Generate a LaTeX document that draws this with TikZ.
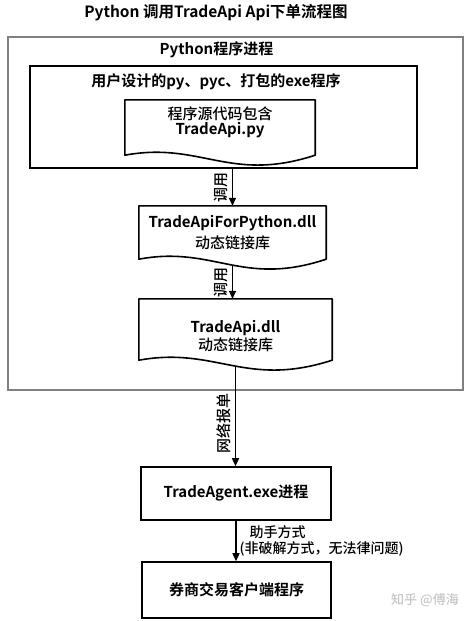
\documentclass[tikz,border=0pt]{standalone}
\usepackage{fontspec}
\setmainfont{Noto Sans CJK SC}[UprightFont=* Medium, BoldFont=* Bold]
\usetikzlibrary{arrows.meta,calc}

\newcommand{\docshape}[2]{%
  \draw[docline] ($(#1.south east)+(0,#2)$) -- (#1.north east) -- (#1.north west) -- ($(#1.south west)+(0,#2)$)
    .. controls ($(#1.south west)!0.4!(#1.south east)+(0,#2-14)$) and ($(#1.south west)!0.55!(#1.south east)+(0,#2+28)$) .. ($(#1.south east)+(0,#2)$) -- cycle;
  \coordinate (#1-out) at ($(#1.south)+(0,#2+6)$);
}

\begin{document}
\begin{tikzpicture}[x=1pt, y=-1pt,
  every node/.style={font=\fontsize{15}{18}\selectfont},
  box/.style={draw, line width=1.6pt, inner sep=0pt},
  docnode/.style={inner sep=0pt, align=center},
  docline/.style={line width=1.6pt, line join=round},
  arr/.style={line width=1.4pt, -{Triangle[length=8pt,width=7pt]}},
  vlabel/.style={rotate=90, anchor=south, inner sep=4pt, font=\fontsize{15}{18}\selectfont},
  sidelabel/.style={right, align=left, inner sep=3pt, font=\fontsize{14}{16}\selectfont}]
  \useasboundingbox (0,0) rectangle (474,621);
  \node[font=\fontsize{15.5}{18}\selectfont\bfseries] (title) at (216,13) {Python 调用TradeApi Api下单流程图};
  \node[draw=gray, line width=1.2pt, minimum width=455pt, minimum height=353pt] (pyproc) at (235.5,213.5) {};
  \node[font=\fontsize{15}{18}\selectfont\bfseries] (pyproclabel) at (216.5,50) {Python程序进程};
  \node[box, minimum width=387pt, minimum height=102pt] (userprog) at (223.5,117) {};
  \node[font=\fontsize{15}{18}\selectfont\bfseries] (userproglabel) at (216,82) {用户设计的py、pyc、打包的exe程序};
  \node[docnode, minimum width=190pt, minimum height=45pt] (srcdoc) at (220,122.5) {程序源代码包含\\[-3pt]\textbf{TradeApi.py}};
  \docshape{srcdoc}{10}
  \node[docnode, minimum width=187pt, minimum height=53pt] (wrapdll) at (232.5,232.5) {\textbf{TradeApiForPython.dll}\\[3pt]动态链接库};
  \docshape{wrapdll}{0}
  \node[docnode, minimum width=193pt, minimum height=74pt] (apidll) at (235.5,336) {\textbf{TradeApi.dll}\\动态链接库};
  \docshape{apidll}{-13}
  \node[box, minimum width=190pt, minimum height=53pt] (agent) at (236,493.5) {\textbf{TradeAgent.exe进程}};
  \node[box, minimum width=189pt, minimum height=56pt] (client) at (236.5,590) {\textbf{券商交易客户端程序}};
  \node[font=\fontsize{13}{15}\selectfont, text=gray!45] (mark) at (425,600) {知乎 @傅海};

  \draw[arr] (wrapdll.north |- userprog.south) -- (wrapdll.north) node[midway, vlabel] {调用};
  \draw[arr] (wrapdll-out) -- (wrapdll-out |- apidll.north) node[midway, vlabel] {调用};
  \draw[arr] (apidll-out) -- (apidll-out |- agent.north) node[pos=0.57, vlabel] {网络报单};
  \draw[arr] (agent.south) -- (agent.south |- client.north) node[midway, sidelabel] {\hspace*{0.7em}助手方式\\(非破解方式，无法律问题)};
\end{tikzpicture}
\end{document}
